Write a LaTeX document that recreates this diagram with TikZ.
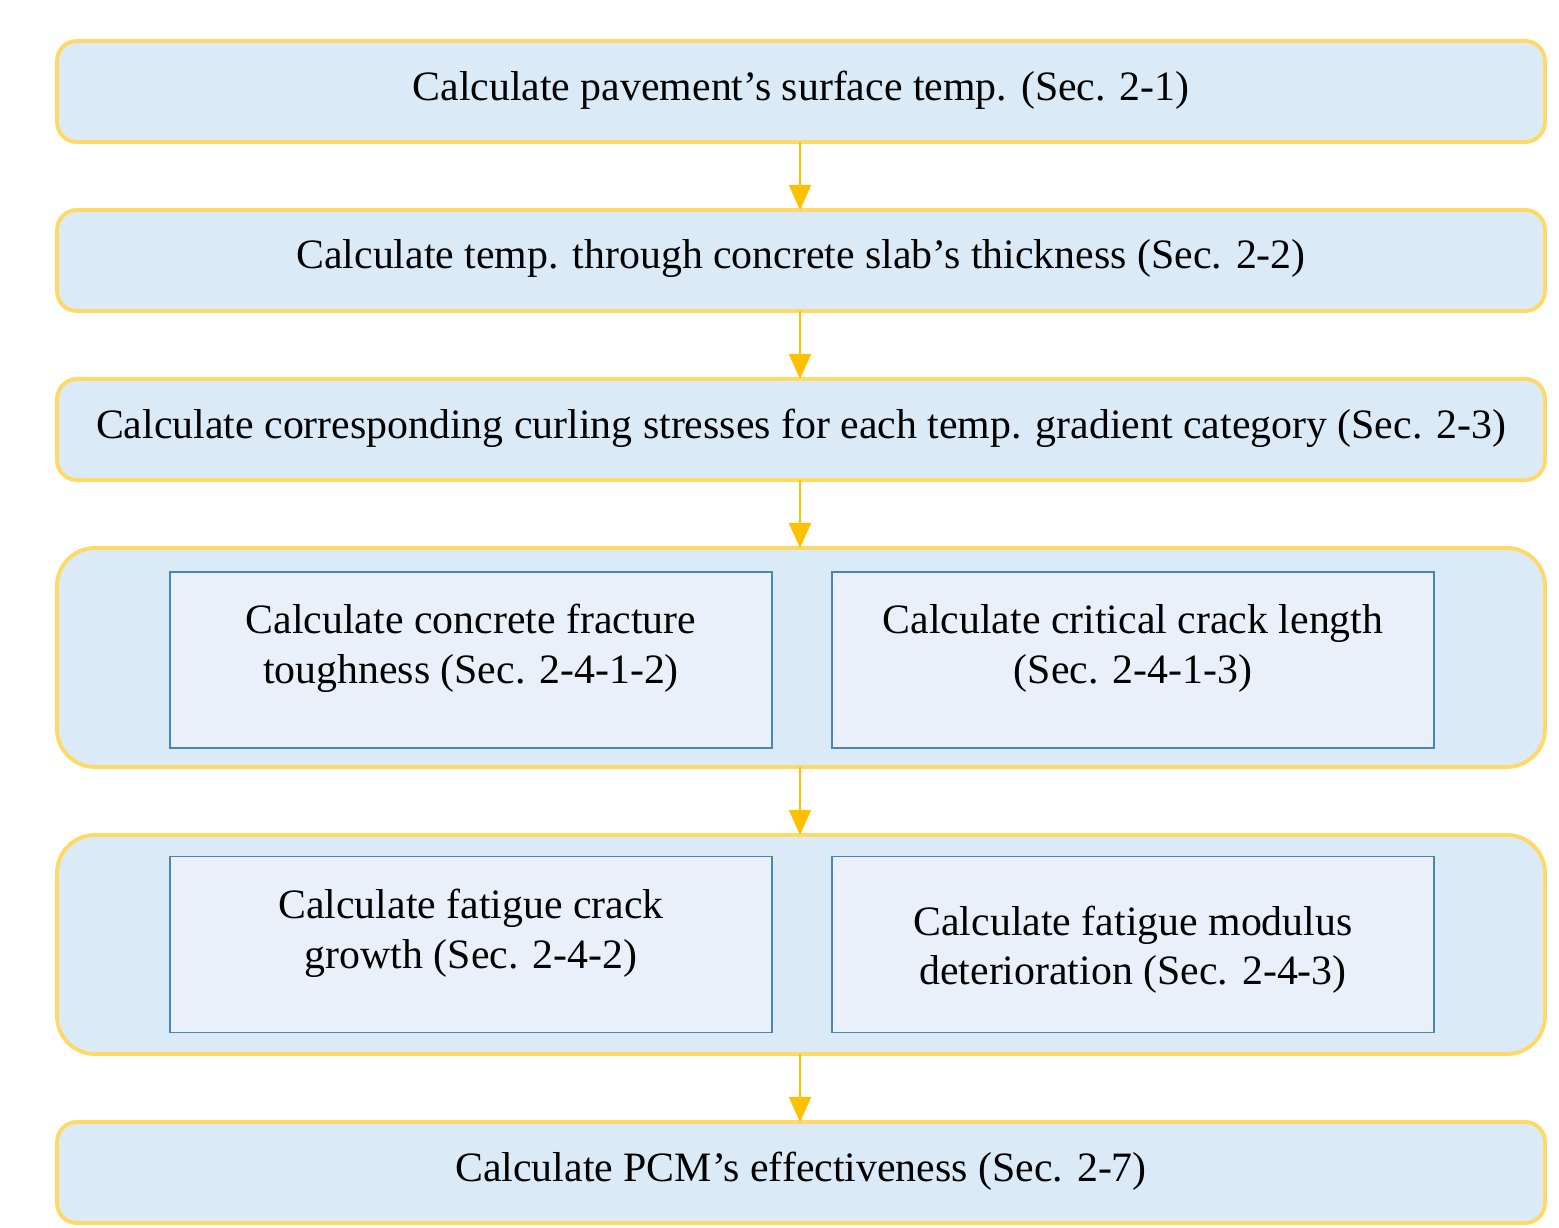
\documentclass[tikz,border=0pt]{standalone}
\usepackage{fontspec}
\setmainfont{Liberation Serif}
\usepackage{tikz}
\usetikzlibrary{arrows.meta, positioning}
\definecolor{edge}{HTML}{FFD966}
\definecolor{flow}{HTML}{FFC000}
\definecolor{panel}{HTML}{DAEAF6}
\definecolor{inner}{HTML}{EAF0FA}
\definecolor{rim}{HTML}{4A86B4}

\begin{document}
\begin{tikzpicture}[
    font=\fontsize{11.9}{14.2}\selectfont,
    stage/.style={draw=edge, fill=panel, line width=1.1pt, rounded corners=0.2cm,
      minimum width=14.88cm, minimum height=1.01cm, align=center, inner sep=0pt, outer sep=0pt,
      text depth=0.12cm},
    group/.style={stage, rounded corners=0.38cm, minimum height=2.19cm},
    task/.style={draw=rim, fill=inner, line width=0.45pt, minimum width=6.02cm,
      minimum height=1.76cm, align=center, inner sep=0pt, outer sep=0pt, text depth=0.32cm},
    flowarrow/.style={flow, line width=0.6pt, -{Triangle[length=0.25cm, width=0.22cm]}},
    node distance=0.68cm]
  \useasboundingbox (0,0) rectangle (15.59,-12.28);
  % main stages
  \node[stage] (surf) at (8.01,-0.915) {Calculate pavement’s surface temp. (Sec. 2-1)};
  \node[stage, below=of surf] (slab) {Calculate temp. through concrete slab’s thickness (Sec. 2-2)};
  \node[stage, below=of slab] (curl) {Calculate corresponding curling stresses for each temp. gradient category (Sec. 2-3)};
  \node[group, below=of curl] (frac) {};
  \node[group, below=of frac] (fatg) {};
  \node[stage, below=of fatg] (pcm) {Calculate PCM’s effectiveness (Sec. 2-7)};
  % inner tasks
  \node[task] (tough) at ([xshift=-3.3cm, yshift=-0.025cm]frac.center)
    {Calculate concrete fracture\\toughness (Sec. 2-4-1-2)};
  \node[task, right=0.6cm of tough] (crit) {Calculate critical crack length\\(Sec. 2-4-1-3)};
  \node[task] (grow) at ([xshift=-3.3cm]fatg.center)
    {Calculate fatigue crack\\growth (Sec. 2-4-2)};
  \node[task, right=0.6cm of grow, text depth=0.09cm, text height=0.9cm] (modu)
    {Calculate fatigue modulus\\deterioration (Sec. 2-4-3)};
  % arrows
  \foreach \a/\b in {surf/slab, slab/curl, curl/frac, frac/fatg, fatg/pcm}
    \draw[flowarrow] ([xshift=-0.01cm]\a.south) -- ([xshift=-0.01cm]\b.north);
\end{tikzpicture}
\end{document}
